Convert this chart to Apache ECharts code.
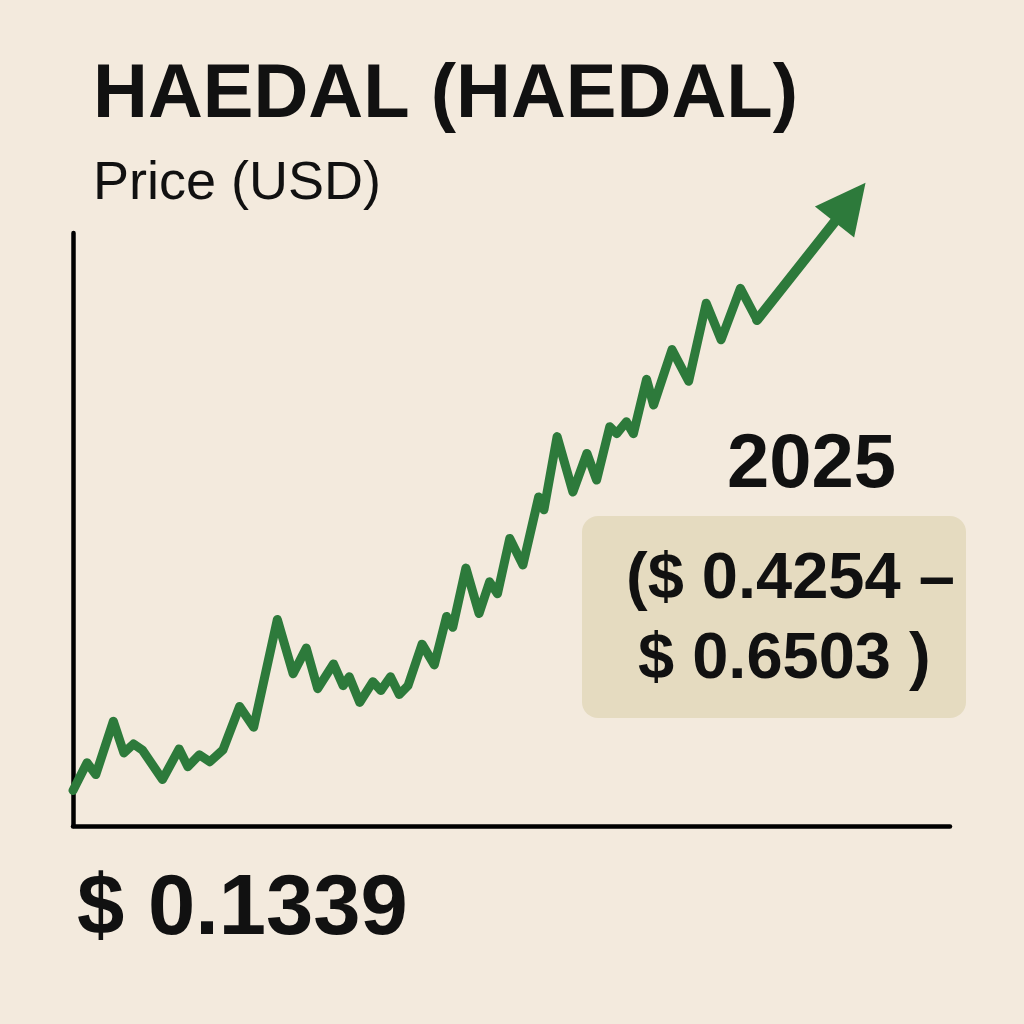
<!DOCTYPE html>
<html>
<head>
<meta charset="utf-8">
<title>HAEDAL price</title>
<script src="https://cdn.jsdelivr.net/npm/echarts@6/dist/echarts.min.js"></script>
<style>
  html, body {
    margin: 0;
    padding: 0;
    background: #f3eadd;
  }
  #chart {
    width: 1024px;
    height: 1024px;
  }
</style>
</head>
<body>
<div id="chart"></div>
<script>
// price path (x = position along the period, 0..100)
const timeSteps = [
  0, 1.6, 2.6, 4.6, 5.8, 6.9, 7.9, 10.2, 12.1, 13.1,
  14.4, 15.6, 17.1, 19.0, 20.6, 23.3, 25.1, 26.6, 27.9, 29.7,
  30.8, 31.5, 32.7, 34.2, 35.1, 36.2, 37.2, 38.2, 39.8, 41.2,
  42.6, 43.3, 44.8, 46.3, 47.5, 48.4, 49.8, 51.3, 53.1, 53.7,
  55.2, 57.0, 58.6, 59.7, 61.2, 62.0, 63.1, 63.9, 65.4, 66.2,
  68.3, 70.2, 72.2, 73.9, 76.1, 78.0
]
const prices = [
  0.136, 0.164, 0.152, 0.206, 0.174, 0.183, 0.177, 0.147, 0.178, 0.160,
  0.172, 0.165, 0.177, 0.221, 0.200, 0.309, 0.254, 0.280, 0.239, 0.264,
  0.242, 0.251, 0.225, 0.246, 0.237, 0.251, 0.233, 0.242, 0.284, 0.263,
  0.312, 0.301, 0.361, 0.315, 0.347, 0.335, 0.391, 0.364, 0.433, 0.420,
  0.494, 0.438, 0.477, 0.450, 0.504, 0.497, 0.509, 0.497, 0.552, 0.526,
  0.582, 0.550, 0.629, 0.592, 0.644, 0.612
]
// where the arrow head sits
const arrowEnd = [88.6, 0.731]

const titleText = 'HAEDAL (HAEDAL)'
const subtitleText = 'Price (USD)'
const yearText = '2025'
const rangeLines = ['($ 0.4254 \u2013', '$ 0.6503 )']
const currentText = '$ 0.1339'

const green = '#2d7a3b'
const ink = '#111111'
const fontFamily = '"Liberation Sans", Arial, Helvetica, sans-serif'

const chart = echarts.init(document.getElementById('chart'))

const lineData = timeSteps.map((t, i) => [t, prices[i]])
const lastPoint = lineData[lineData.length - 1]

const hiddenAxis = {
  type: 'value',
  axisLabel: { show: false },
  axisTick: { show: false },
  splitLine: { show: false },
  axisLine: {
    show: true,
    onZero: false,
    lineStyle: { color: '#000', width: 4.5 }
  }
}

const option = {
  backgroundColor: '#f3eadd',
  animation: false,
  grid: {
    left: 73,
    right: 74,
    top: 233,
    bottom: 198
  },
  xAxis: Object.assign({}, hiddenAxis, { min: 0, max: 100 }),
  yAxis: Object.assign({}, hiddenAxis, { min: 0.1, max: 0.7 }),
  series: [
    {
      type: 'line',
      data: lineData,
      showSymbol: false,
      clip: false,
      lineStyle: {
        color: green,
        width: 9,
        join: 'round',
        cap: 'round'
      }
    },
    {
      // last leg of the path with the arrow head
      type: 'lines',
      coordinateSystem: 'cartesian2d',
      clip: false,
      silent: true,
      symbol: ['none', 'triangle'],
      symbolSize: [62, 50],
      lineStyle: {
        color: green,
        width: 10,
        opacity: 1,
        curveness: 0,
        cap: 'round'
      },
      data: [{ coords: [lastPoint, arrowEnd] }]
    }
  ],
  graphic: [
    {
      type: 'text',
      left: 93, top: 58,
      style: { text: titleText, font: 'bold 76px ' + fontFamily, fill: ink }
    },
    {
      type: 'text',
      left: 93, top: 157,
      style: { text: subtitleText, font: '54px ' + fontFamily, fill: ink }
    },
    {
      type: 'rect',
      left: 582, top: 516,
      shape: { width: 384, height: 202, r: 16 },
      style: { fill: '#e5dbc0' }
    },
    {
      type: 'text',
      left: 727, top: 428,
      style: { text: yearText, font: 'bold 76px ' + fontFamily, fill: ink }
    },
    {
      type: 'text',
      left: 626, top: 548,
      style: { text: rangeLines[0], font: 'bold 65px ' + fontFamily, fill: ink }
    },
    {
      type: 'text',
      left: 638, top: 628,
      style: { text: rangeLines[1], font: 'bold 65px ' + fontFamily, fill: ink }
    },
    {
      type: 'text',
      left: 77, top: 868,
      style: { text: currentText, font: 'bold 85px ' + fontFamily, fill: ink }
    }
  ]
}

chart.setOption(option)
</script>
</body>
</html>
